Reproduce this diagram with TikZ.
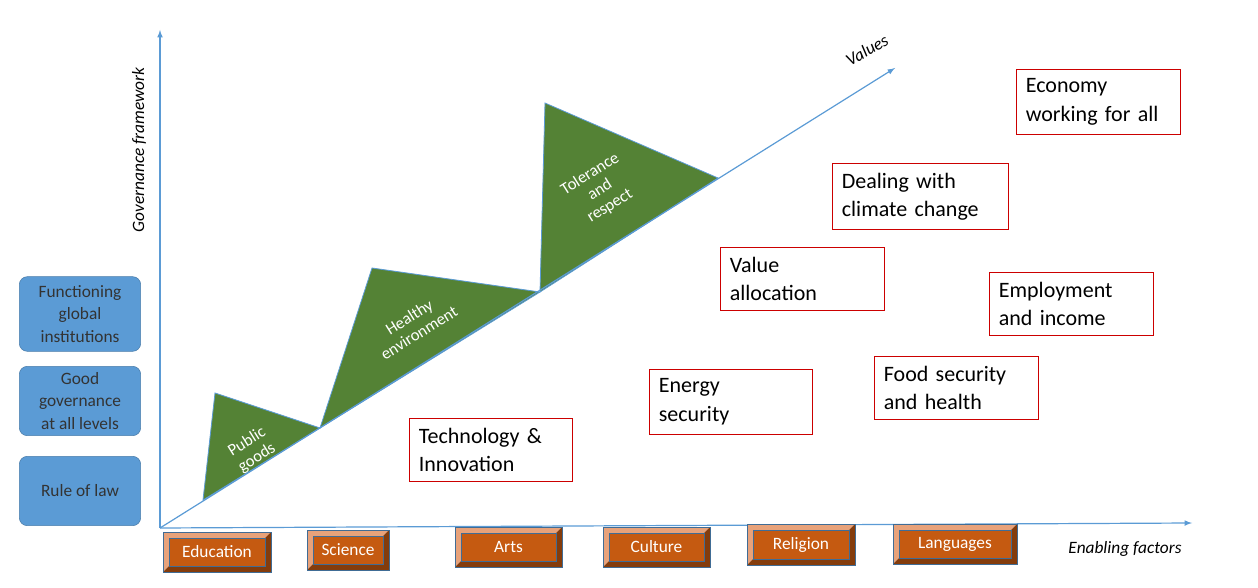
\documentclass[tikz,border=0pt]{standalone}
\usepackage{fontspec}
\setmainfont{Carlito}
\begin{document}
\begin{tikzpicture}[x=0.75pt,y=-0.75pt,
 ax/.style={draw=axb,line width=0.9pt,-latex},
 tri/.style={fill=tg,draw=axb,line width=0.6pt},
 tl/.style={text=white,font=\fontsize{12.5}{14}\selectfont,align=center,rotate=32},
 rb/.style={draw=red!80!black,line width=0.8pt,text width=#1,align=left,font=\fontsize{16.5}{21.5}\selectfont,inner sep=7pt},
 lb/.style={draw=axb!80!black,fill=bb,rounded corners=6pt,minimum width=91pt,align=center,font=\fontsize{13}{17}\selectfont,text=black!80},
]
\definecolor{axb}{HTML}{5B9BD5}
\definecolor{tg}{HTML}{548235}
\definecolor{bb}{HTML}{5B9BD5}
\definecolor{or}{HTML}{C55A11}
\definecolor{orl}{HTML}{E8A27A}
\definecolor{ord}{HTML}{843C0C}
\useasboundingbox (0,0) rectangle (1258,588);
\coordinate (O) at (160,528);
\coordinate (Y) at (160,30);
\coordinate (X) at (1192,523);
\coordinate (V) at (895,68);
% triangles
\draw[tri] (203,500) -- (215,393) -- (320,428) -- cycle;
\draw[tri] (320,428) -- (372,268) -- (540,292) -- cycle;
\draw[tri] (540,292) -- (545,103) -- (718,178) -- cycle;
\node[tl] (t1) at (252,450) {Public\\goods};
\node[tl] (t2) at (414,325) {Healthy\\environment};
\node[tl] (t3) at (600,190) {Tolerance\\and\\respect};
\draw[ax] (O) -- (Y);
\draw[ax] (O) -- (X);
\draw[ax] (O) -- (V);
\node[rotate=90,font=\itshape\fontsize{13}{14}\selectfont] (gf) at (139,150) {Governance framework};
\node[rotate=30,font=\itshape\fontsize{13}{14}\selectfont] (vl) at (867,50) {Values};
\node[font=\itshape\fontsize{13}{14}\selectfont] (ef) at (1125,549) {Enabling factors};
% red boxes
\node[rb=108pt,anchor=north west] (b1) at (409,418) {Technology \&\\Innovation};
\node[rb=108pt,anchor=north west] (b2) at (649,369) {Energy\\security};
\node[rb=109pt,anchor=north west] (b3) at (720,247) {Value\\allocation};
\node[rb=118pt,anchor=north west] (b4) at (832,163) {Dealing with\\climate change};
\node[rb=109pt,anchor=north west] (b5) at (1016,69) {Economy\\working for all};
\node[rb=109pt,anchor=north west] (b6) at (989,272) {Employment\\and income};
\node[rb=109pt,anchor=north west] (b7) at (874,356) {Food security\\and health};
% left boxes
\node[lb,minimum height=56pt] (l1) at (80,314) {Functioning\\global\\institutions};
\node[lb,minimum height=52pt] (l2) at (80,401) {Good\\governance\\at all levels};
\node[lb,minimum height=52pt] (l3) at (80,491) {Rule of law};
% bottom bevel boxes
\foreach \n/\xa/\ya/\xb/\yb/\t in {e/163/532/271/572/Education,s/307/530/389/570/Science,a/455/527/562/567/Arts,c/603/527/710/567/Culture,r/747/524/855/565/Religion,g/893/524/1017/564/Languages}{
  \fill[orl] (\xa,\ya) -- (\xb,\ya) -- (\xb-6,\ya+6) -- (\xa+6,\ya+6) -- (\xa+6,\yb-6) -- (\xa,\yb) -- cycle;
  \fill[ord] (\xb,\yb) -- (\xb,\ya) -- (\xb-6,\ya+6) -- (\xb-6,\yb-6) -- (\xa+6,\yb-6) -- (\xa,\yb) -- cycle;
  \draw[axb!70!black,fill=or,line width=0.6pt] (\xa+6,\ya+6) rectangle (\xb-6,\yb-6);
  \draw[axb!70!black,line width=0.6pt] (\xa,\ya) rectangle (\xb,\yb);
  \node[text=white,font=\fontsize{13}{14}\selectfont] (f\n) at ({(\xa+\xb)/2},{(\ya+\yb)/2}) {\t};
}
\end{tikzpicture}
\end{document}
